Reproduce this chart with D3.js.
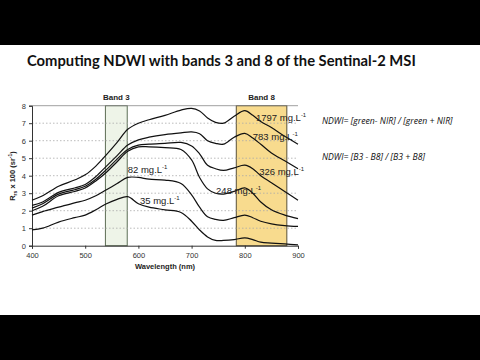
<!DOCTYPE html>
<html>
<head>
<meta charset="utf-8">
<script src="https://cdn.jsdelivr.net/npm/d3@7"></script>
<style>
  body { margin: 0; background: #000; }
  svg { display: block; }
</style>
</head>
<body>
<div id="chart"></div>
<script>
// wavelengths (nm) shared by all spectra
const wavelengths = [400, 420, 450, 480, 500, 520, 540, 560, 580, 600, 620, 650, 680, 700, 715, 730, 745, 760, 780, 800, 815, 830, 850, 875, 900];

const s1797 = [2.6, 2.85, 3.4, 3.75, 4.05, 4.55, 5.2, 5.9, 6.65, 7.0, 7.2, 7.45, 7.75, 7.85, 7.7, 7.3, 7.05, 7.0, 7.4, 7.72, 7.45, 7.1, 6.75, 6.25, 5.8];
const s783 = [2.3, 2.5, 3.05, 3.3, 3.5, 3.95, 4.55, 5.15, 5.75, 6.05, 6.2, 6.35, 6.45, 6.5, 6.4, 6.0, 5.85, 5.8, 6.2, 6.42, 6.15, 5.8, 5.3, 4.85, 4.4];
const s326 = [2.15, 2.4, 2.95, 3.2, 3.4, 3.8, 4.35, 4.95, 5.5, 5.75, 5.8, 5.85, 5.9, 5.7, 5.25, 4.6, 4.4, 4.3, 4.45, 4.6, 4.4, 4.0, 3.6, 3.1, 2.6];
const s248 = [2.0, 2.25, 2.85, 3.1, 3.3, 3.7, 4.2, 4.8, 5.4, 5.65, 5.65, 5.6, 5.5, 4.9, 3.9, 3.25, 3.0, 2.95, 3.1, 3.3, 3.0, 2.5, 2.05, 1.75, 1.55];
const s82 = [1.75, 1.95, 2.2, 2.45, 2.6, 2.85, 3.2, 3.55, 3.9, 3.9, 3.8, 3.75, 3.55, 2.9, 2.2, 1.65, 1.5, 1.45, 1.6, 1.75, 1.6, 1.4, 1.25, 1.15, 1.1];
const s35 = [0.9, 1.0, 1.35, 1.6, 1.75, 2.05, 2.4, 2.65, 2.8, 2.4, 2.2, 2.05, 1.9, 1.4, 0.9, 0.5, 0.3, 0.3, 0.35, 0.45, 0.35, 0.2, 0.15, 0.1, 0.05];

const series = [s1797, s783, s326, s248, s82, s35];

// curve labels: text, wavelength, value where the label sits
const labelText = ['1797 mg.L', '783 mg.L', '326 mg.L', '248 mg.L', '82 mg.L', '35 mg.L'];
const labelWl = [821, 815, 827, 746, 580, 603];
const labelVal = [7.3, 6.23, 4.23, 3.18, 4.33, 2.61];

// sentinel-2 bands [start, end] nm
const bandNames = ['Band 3', 'Band 8'];
const bandRanges = [[538, 579], [784, 879]];

const xTicks = [400, 500, 600, 700, 800, 900];
const yTicks = [0, 1, 2, 3, 4, 5, 6, 7, 8];

const title = 'Computing NDWI with bands 3 and 8 of the Sentinal-2 MSI';
const formulas = ['NDWI= [green- NIR] / [green + NIR]', 'NDWI= [B3 - B8] / [B3 + B8]'];

var W = 480, H = 360;
var svg = d3.select('#chart').append('svg').attr('width', W).attr('height', H);

svg.append('rect').attr('width', W).attr('height', H).attr('fill', '#000');
svg.append('rect').attr('x', 0).attr('y', 45).attr('width', W).attr('height', 270).attr('fill', '#fff');

// title, fitted to width
var t = svg.append('text')
	.attr('x', 27).attr('y', 66)
	.style('font-family', 'Lato, "Open Sans", sans-serif')
	.style('font-weight', 'bold')
	.style('font-size', '16px')
	.attr('fill', '#111')
	.text(title);
var tw = t.node().getComputedTextLength();
t.style('font-size', (16 * 389 / tw) + 'px');

var x = d3.scaleLinear().domain([400, 900]).range([32, 298]);
var y = d3.scaleLinear().domain([0, 8]).range([245.7, 105.7]);

var g = svg.append('g').style('font-family', '"Liberation Sans", Arial, sans-serif');

// bands
g.selectAll('rect.band')
	.data(bandRanges)
	.enter()
	.append('rect')
	.attr('class', 'band')
	.attr('x', (d) => x(d[0]))
	.attr('y', y(8))
	.attr('width', (d) => x(d[1]) - x(d[0]))
	.attr('height', y(0) - y(8))
	.attr('fill', (d, i) => (i === 0 ? '#eef4e8' : '#f8db8e'))
	.attr('stroke', (d, i) => (i === 0 ? '#5d6e55' : '#5a5238'))
	.attr('stroke-width', 1);

g.selectAll('text.band')
	.data(bandRanges)
	.enter()
	.append('text')
	.attr('x', (d) => x((d[0] + d[1]) / 2))
	.attr('y', y(8) - 6)
	.attr('text-anchor', 'middle')
	.style('font-size', '8px')
	.style('font-weight', 'bold')
	.attr('fill', '#222')
	.text((d, i) => bandNames[i]);

// dotted grid
g.selectAll('line.grid')
	.data(yTicks.filter((v) => v > 0 && v < 8))
	.enter()
	.append('line')
	.attr('x1', x(400)).attr('x2', x(900))
	.attr('y1', (d) => y(d)).attr('y2', (d) => y(d))
	.attr('stroke', '#aaa')
	.attr('stroke-width', 0.8)
	.attr('stroke-dasharray', '1.5,2');

// top frame line
g.append('line')
	.attr('x1', x(400)).attr('x2', x(900))
	.attr('y1', y(8)).attr('y2', y(8))
	.attr('stroke', '#888').attr('stroke-width', 0.8);

// axes
var xAxis = g.append('g')
	.attr('transform', 'translate(0,' + y(0) + ')')
	.call(d3.axisBottom(x).tickValues(xTicks).tickSize(3).tickFormat(d3.format('d')));
var yAxis = g.append('g')
	.attr('transform', 'translate(' + x(400) + ',0)')
	.call(d3.axisLeft(y).tickValues(yTicks).tickSize(3));
[xAxis, yAxis].forEach(function (a) {
	a.select('.domain').attr('stroke', '#333');
	a.selectAll('.tick line').attr('stroke', '#333');
	a.selectAll('.tick text').attr('fill', '#333').style('font-size', '7.5px').style('font-family', '"Liberation Sans", Arial, sans-serif');
});
xAxis.selectAll('.tick text').attr('dy', '0.9em');

// curves
var line = d3.line()
	.x((d, i) => x(wavelengths[i]))
	.y((d) => y(d))
	.curve(d3.curveCatmullRom.alpha(0.5));

g.selectAll('path.spec')
	.data(series)
	.enter()
	.append('path')
	.attr('class', 'spec')
	.attr('d', line)
	.attr('fill', 'none')
	.attr('stroke', '#111')
	.attr('stroke-width', 1.2);

// curve labels with superscript -1
var lab = g.selectAll('text.lab')
	.data(labelText)
	.enter()
	.append('text')
	.attr('class', 'lab')
	.attr('x', (d, i) => x(labelWl[i]))
	.attr('y', (d, i) => y(labelVal[i]) + 3.5)
	.style('font-size', '9.5px')
	.attr('fill', '#222');
lab.append('tspan').text((d) => d);
lab.append('tspan').attr('dy', -4).style('font-size', '6px').text('-1');

// axis titles
var yl = g.append('text')
	.attr('transform', 'translate(15,176) rotate(-90)')
	.attr('text-anchor', 'middle')
	.style('font-size', '7.5px')
	.style('font-weight', 'bold')
	.attr('fill', '#222');
yl.append('tspan').text('R');
yl.append('tspan').attr('dy', 2).style('font-size', '5px').text('rs');
yl.append('tspan').attr('dy', -2).text(' x 100 (sr');
yl.append('tspan').attr('dy', -3).style('font-size', '5px').text('-1');
yl.append('tspan').attr('dy', 3).text(')');

g.append('text')
	.attr('x', x(650)).attr('y', 269)
	.attr('text-anchor', 'middle')
	.style('font-size', '7.5px')
	.style('font-weight', 'bold')
	.attr('fill', '#222')
	.text('Wavelength (nm)');

// formulas, sized so the first one spans its width in the reference
var ft = svg.selectAll('text.formula')
	.data(formulas)
	.enter()
	.append('text')
	.attr('class', 'formula')
	.attr('x', 322)
	.attr('y', (d, i) => 124 + i * 36)
	.style('font-family', '"Open Sans", sans-serif')
	.style('font-style', 'italic')
	.style('font-size', '8px')
	.attr('fill', '#111')
	.text((d) => d);
var fw = ft.node().getComputedTextLength();
ft.style('font-size', (8 * 131 / fw) + 'px');
</script>
</body>
</html>
